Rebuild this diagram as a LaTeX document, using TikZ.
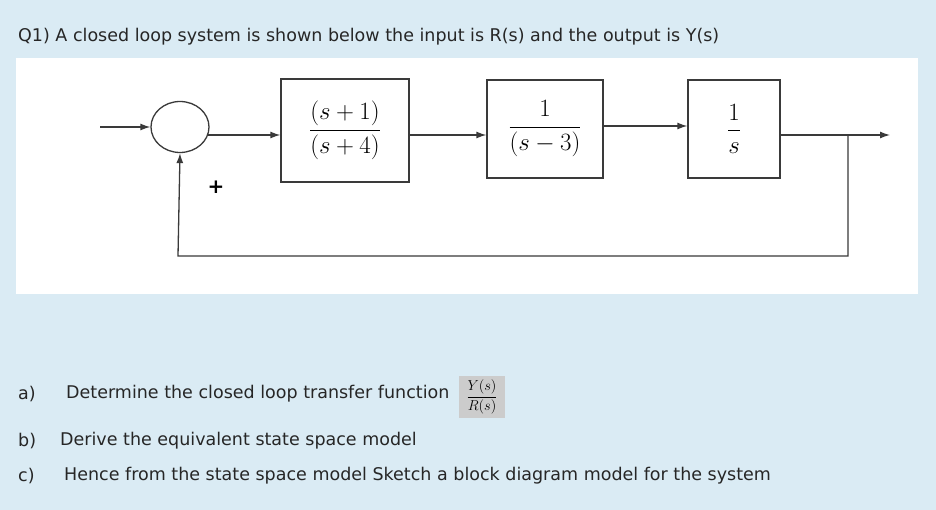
\documentclass[tikz,border=0pt]{standalone}
\usepackage{amsmath}
\usepackage{fontspec}
\setmainfont{DejaVu Sans}
\usetikzlibrary{arrows.meta,shapes.geometric}
\definecolor{bg}{HTML}{DAEBF4}
\definecolor{ln}{HTML}{3A3A3A}
\begin{document}
\begin{tikzpicture}[x=1pt,y=-1pt,
  blk/.style={draw=ln,line width=1.3pt,minimum width=#1,minimum height=98pt,inner sep=0pt},
  wire/.style={ln,line width=1.3pt},
  arr/.style={wire,-{Latex[length=10pt,width=7pt]}},
  txt/.style={anchor=west,inner sep=0pt,font=\fontsize{17.5}{20}\selectfont,text=black!85}]
\fill[bg] (0,0) rectangle (936,510);
\useasboundingbox (0,0) rectangle (936,510);
\fill[white] (16,58) rectangle (918,294);
\node[txt] (q) at (18,37) {Q1) A closed loop system is shown below the input is R(s) and the output is Y(s)};
% diagram
\coordinate (in) at (100,127);
\node[draw=ln,line width=1.3pt,ellipse,minimum width=58pt,minimum height=51pt,inner sep=0pt] (sum) at (180,127) {};
\node[blk=128pt,minimum height=103pt] (b1) at (345,130.5) {\fontsize{33}{36}\selectfont$\dfrac{(s+1)}{(s+4)}$};
\node[blk=116pt] (b2) at (545,129) {\fontsize{33}{36}\selectfont$\dfrac{1}{(s-3)}$};
\node[blk=92pt] (b3) at (734,129) {\fontsize{33}{36}\selectfont$\dfrac{1}{s}$};
\coordinate (s1) at (207,135);
\coordinate (o1) at (890,135);
\coordinate (br) at (848,135);
\coordinate (fb1) at (848,256);
\coordinate (fb2) at (178,256);
\draw[arr] (in) -- (sum.west);
\draw[arr] (s1) -- (s1 -| b1.west);
\draw[arr] (b1.east |- s1) -- (b2.west |- s1);
\draw[arr] (b2.east |- 0,126) -- (b3.west |- 0,126);
\draw[arr] (b3.east |- o1) -- (o1);
\draw[arr] (br) -- (fb1) -- (fb2) -- (sum.south);
\node (plus) at (216,187) {\fontsize{20}{20}\selectfont\textbf{+}};
% questions
\node[txt] (a) at (18,394) {a)};
\node[txt] (at) at (66,394) {Determine the closed loop transfer function};
\node[fill=black!20,inner sep=1.5pt,minimum width=46pt,minimum height=42pt] (fr) at (482,397) {\fontsize{15}{16}\selectfont$\dfrac{Y(s)}{R(s)}$};
\node[txt] (b) at (18,441) {b)};
\node[txt] (bt) at (60,441) {Derive the equivalent state space model};
\node[txt] (c) at (18,476) {c)};
\node[txt] (ct) at (64,476) {Hence from the state space model Sketch a block diagram model for the system};
\end{tikzpicture}
\end{document}
